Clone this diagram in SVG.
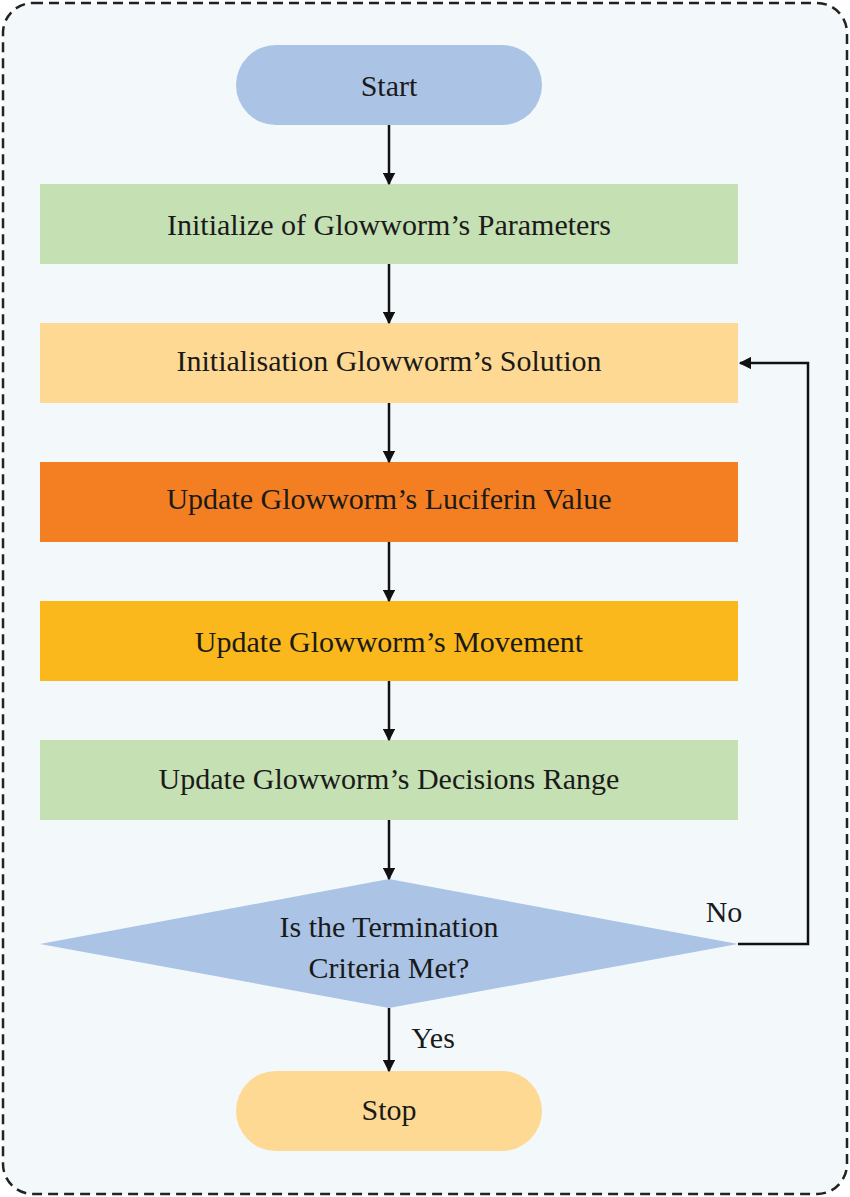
<svg xmlns="http://www.w3.org/2000/svg" width="850" height="1197" viewBox="0 0 850 1197">
<style>
text{font-family:"Liberation Serif","Times New Roman",serif;font-size:30px;fill:#1a1a1a;text-anchor:middle}
.c{stroke:#111;stroke-width:2.5;fill:none}
</style>
<defs><marker id="a" viewBox="0 0 10 10" refX="9" refY="5" markerWidth="5" markerHeight="5" orient="auto"><path d="M0,0L10,5L0,10z" fill="#111"/></marker></defs>
<rect x="3" y="3" width="844" height="1191" rx="30" fill="#f3f9fa" stroke="#222" stroke-width="2.5" stroke-dasharray="10,6"/>
<g id="start"><rect x="236" y="45" width="306" height="80" rx="40" fill="#abc4e6"/><text x="389" y="96">Start</text></g>
<g id="n1"><rect x="40" y="184" width="698" height="80" fill="#c5e0b3"/><text x="389" y="235">Initialize of Glowworm’s Parameters</text></g>
<g id="n2"><rect x="40" y="323" width="698" height="80" fill="#fed994"/><text x="389" y="371">Initialisation Glowworm’s Solution</text></g>
<g id="n3"><rect x="40" y="462" width="698" height="80" fill="#f47f22"/><text x="389" y="509">Update Glowworm’s Luciferin Value</text></g>
<g id="n4"><rect x="40" y="601" width="698" height="80" fill="#fbb81c"/><text x="389" y="652">Update Glowworm’s Movement</text></g>
<g id="n5"><rect x="40" y="740" width="698" height="80" fill="#c5e0b3"/><text x="389" y="789">Update Glowworm’s Decisions Range</text></g>
<g id="dec"><polygon points="389,879 738,944 389,1008 40,944" fill="#abc4e6"/><text x="389" y="937">Is the Termination</text><text x="389" y="978">Criteria Met?</text></g>
<g id="stop"><rect x="236" y="1071" width="306" height="80" rx="40" fill="#fed994"/><text x="389" y="1120">Stop</text></g>
<g id="connectors">
<path class="c" marker-end="url(#a)" d="M389,125V184"/>
<path class="c" marker-end="url(#a)" d="M389,264V323"/>
<path class="c" marker-end="url(#a)" d="M389,403V462"/>
<path class="c" marker-end="url(#a)" d="M389,542V601"/>
<path class="c" marker-end="url(#a)" d="M389,681V740"/>
<path class="c" marker-end="url(#a)" d="M389,820V879"/>
<path class="c" marker-end="url(#a)" d="M389,1008V1071"/>
<path class="c" stroke-width="2" marker-end="url(#a)" d="M738,944H808V363H740"/>
<text x="724" y="922">No</text>
<text x="433" y="1048">Yes</text>
</g>
</svg>
